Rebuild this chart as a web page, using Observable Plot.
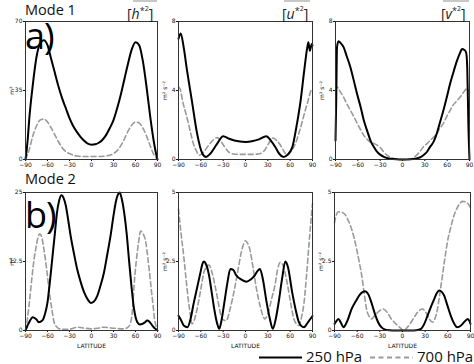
<!DOCTYPE html>
<html>
<head>
<meta charset="utf-8">
<script src="https://cdn.jsdelivr.net/npm/d3@7"></script>
<script src="https://cdn.jsdelivr.net/npm/@observablehq/plot@0.6"></script>
<style>
  html, body { margin: 0; padding: 0; background: #fff; }
  #root { position: relative; width: 474px; height: 364px; overflow: hidden; font-family: "Open Sans", sans-serif; }
  .abs { position: absolute; white-space: nowrap; line-height: 1; }
  .mode { font-size: 14.5px; color: #111; }
  .var { font-size: 14px; color: #222; }
  .var sup { font-size: 9px; vertical-align: 5px; }
  .var sup sup { font-size: 7px; vertical-align: 3px; }
  .tag { font-size: 36px; color: #000; letter-spacing: -1px; line-height: 27px; }
  .leg { font-size: 15px; color: #111; line-height: 13px; }
  .bar { position: absolute; background: #c8c8c8; height: 2px; top: 0; }
</style>
</head>
<body>
<div id="root"></div>
<script>
// ---- Data: [latitude, value] pairs ----
const xTicks = [-90, -60, -30, 0, 30, 60, 90];

// Mode 1, [h*^2] (m^2)
const h1_250 = [[-90,0],[-87,10],[-85,20],[-80,38],[-75,52],[-70,59],[-65,60.5],[-60,58],[-55,51],[-50,44],[-45,37],[-40,31],[-35,26],[-30,21],[-25,17],[-20,14],[-15,11.5],[-10,9.5],[-5,8],[0,7.5],[5,7.7],[10,8.5],[15,10],[20,12.5],[25,16],[30,20],[35,26],[40,33],[45,41],[50,49],[55,56],[60,59.5],[65,58],[70,50],[75,37],[80,22],[85,9],[88,3],[90,0]];
const h1_700 = [[-90,0],[-85,5],[-80,12],[-75,17],[-70,20],[-65,20.5],[-60,19],[-55,16],[-50,12.5],[-45,9],[-40,6],[-35,4],[-30,3],[-25,2.2],[-20,1.8],[-10,1.5],[0,1.5],[10,1.5],[20,1.8],[25,2.2],[30,3],[35,4.5],[40,7],[45,10.5],[50,14.5],[55,17.5],[60,19],[65,18.5],[70,16],[75,12],[80,7],[85,2.5],[90,0]];

// Mode 1, [u*^2] (m^2 s^-2)
const u1_250 = [[-90,7.0],[-87,7.3],[-83,6.5],[-79,5.3],[-72,3.4],[-65,1.5],[-58,0.35],[-53,0.15],[-47,0.35],[-38,0.92],[-30,1.35],[-22,1.2],[-15,1.1],[0,1.02],[10,1.07],[17,1.15],[28,1.35],[34,1.1],[40,0.73],[45,0.35],[51,0.15],[57,0.3],[63,0.73],[68,1.8],[74,3.4],[79,5.2],[83,6.5],[84.5,6.8],[86.5,6.3],[89,6.7],[90,6.6]];
const u1_700 = [[-90,4.2],[-88,4.1],[-84,3.3],[-79,2.5],[-74,1.6],[-70,0.92],[-66,0.5],[-62,0.25],[-56,0.44],[-50,0.8],[-44,1.1],[-38,1.27],[-33,1.05],[-28,0.73],[-24,0.5],[-19,0.35],[-10,0.3],[0,0.3],[10,0.3],[20,0.35],[26,0.55],[31,0.92],[37,1.25],[42,1.1],[47,0.83],[52,0.45],[56,0.25],[61,0.45],[67,0.92],[73,1.7],[79,2.65],[84,3.4],[88,4.0],[90,4.1]];

// Mode 1, [v*^2] (m^2 s^-2)
const v1_250 = [[-90,1.1],[-89,3.5],[-88,6.5],[-86,6.85],[-83,6.75],[-79,6.5],[-75,6.0],[-70,5.35],[-65,4.5],[-61,3.8],[-56,3.0],[-52,2.27],[-47,1.6],[-43,1.1],[-38,0.7],[-34,0.44],[-29,0.25],[-25,0.15],[-20,0.07],[-16,0.04],[-8,0.01],[0,0],[10,0.01],[19,0.06],[24,0.13],[28,0.25],[33,0.45],[37,0.73],[42,1.05],[46,1.5],[50,2.1],[55,2.85],[60,3.7],[64,4.4],[68,5.0],[73,5.7],[77,6.15],[80,6.4],[83,6.35],[85.5,6.2],[87,5.3],[88.5,2.0],[90,0]];
const v1_700 = [[-90,4.0],[-88,4.2],[-84,3.95],[-79,3.6],[-75,3.25],[-70,2.85],[-65,2.45],[-61,2.1],[-56,1.7],[-52,1.4],[-47,1.15],[-43,1.0],[-38,0.92],[-34,0.83],[-30,0.7],[-27,0.54],[-24,0.38],[-21,0.25],[-16,0.12],[-12,0.06],[-5,0.01],[0,0],[10,0],[14,0.08],[19,0.25],[24,0.5],[28,0.73],[33,0.92],[37,1.1],[42,1.3],[46,1.5],[50,1.8],[55,2.1],[60,2.55],[64,2.85],[68,3.15],[73,3.4],[78,3.65],[82,3.9],[86.5,4.1],[90,3.9]];

// Mode 2, [h*^2] (m^2)
const h2_250 = [[-90,0],[-85,1.5],[-80,2.4],[-75,2.0],[-72,1.5],[-67,1.8],[-63,3.2],[-60,5.1],[-57,8.5],[-53.5,13],[-50,17.5],[-47,21.4],[-44,23.6],[-41,24.5],[-38,24.0],[-35,22.6],[-32,20.2],[-28.5,17.2],[-24,14.0],[-19.5,11.1],[-15,8.9],[-10,6.9],[-5,5.6],[-1,5.0],[3,5.2],[8,6.3],[12,8.0],[17,10.5],[21,13.4],[26,17.2],[30,20.8],[33,23.2],[36,24.6],[38.5,25],[41,24.0],[44.5,21.4],[48,17.5],[51,13],[54.5,8.0],[58,3.9],[62.5,1.5],[66,1.1],[69.5,1.2],[73,1.5],[76,1.8],[79,1.6],[83,0.9],[87,0.3],[90,0]];
const h2_700 = [[-90,0],[-87,2.5],[-84,6],[-81,9.9],[-78,13.2],[-76,14.8],[-73,16.8],[-70.5,17.5],[-68,17],[-65,14.8],[-61,11],[-58,7.5],[-54,3.8],[-51,1.5],[-47,0.6],[-44,0.3],[-33,0.2],[-25,0.4],[-19,0.6],[-10,0.45],[-1,0.3],[8,0.4],[17,0.6],[24,0.5],[31,0.4],[44,0.3],[50,0.6],[53.5,1.5],[56,4.0],[58,8.1],[61,12.5],[64,15.8],[67,18],[70,17.6],[74,16],[77,13],[81,8.1],[84,4.5],[86,2.1],[88,0.8],[90,0]];

// Mode 2, [u*^2] (m^2 s^-2)
const u2_250 = [[-90,0.54],[-87,0.4],[-83,0.18],[-78,0.12],[-74,0.4],[-69.5,1.0],[-65,1.55],[-60.5,2.1],[-58,2.4],[-56,2.5],[-53,2.4],[-49,2.0],[-45.5,1.4],[-42,0.78],[-38.5,0.3],[-35.3,0.06],[-32,0.4],[-28.5,1.0],[-24.5,1.7],[-20.3,2.23],[-16.5,2.2],[-12.5,2.0],[-6,1.85],[1,1.77],[7,1.85],[12.5,2.0],[16,2.15],[19.4,2.23],[23,1.9],[28.5,1.0],[32.5,0.45],[36.7,0.06],[40.5,0.4],[44.4,1.0],[49,1.85],[53.5,2.5],[57,2.3],[62.6,1.4],[67,0.8],[71.7,0.3],[75,0.16],[78.6,0.12],[82,0.22],[85.5,0.36],[88,0.45],[90,0.52]];
const u2_700 = [[-90,4.4],[-86.5,3.5],[-83,2.7],[-80,1.9],[-76.3,1.0],[-74,0.55],[-71.8,0.24],[-68.5,0.4],[-65,0.78],[-60,1.5],[-56,2.1],[-52.5,2.3],[-49,2.37],[-45,2.1],[-40,1.5],[-36.5,1.0],[-33,0.54],[-29.5,0.38],[-26,0.36],[-20.5,0.8],[-14.8,1.5],[-10,2.2],[-5.7,2.83],[-3,3.1],[-0.2,3.25],[3,3.15],[5.7,2.95],[10,2.3],[14.8,1.5],[20,0.85],[26,0.42],[30,0.6],[35,1.14],[40,1.7],[43,2.2],[46.7,2.47],[50.5,2.35],[55.8,1.75],[60,1.1],[65,0.42],[68,0.25],[71.7,0.18],[75,0.45],[78.6,1.0],[82,2.0],[85.5,3.2],[88,4.0],[90,4.6]];

// Mode 2, [v*^2] (m^2 s^-2)
const v2_250 = [[-90,0.24],[-87,0.36],[-84.8,0.42],[-81.5,0.28],[-78.2,0.12],[-73,0.35],[-67.3,0.78],[-61,1.1],[-56.4,1.3],[-49.8,1.42],[-45,1.3],[-41,1.0],[-36.5,0.6],[-32.3,0.3],[-28,0.12],[-23.6,0.04],[-17,0.01],[-10.5,0],[0,0],[11.4,0],[18,0.01],[24.5,0.06],[29,0.25],[33.2,0.54],[37.5,0.85],[42,1.14],[45.5,1.36],[48.5,1.45],[52,1.4],[55,1.27],[59.5,0.9],[63.8,0.54],[68,0.27],[72.5,0.12],[77,0.17],[81.3,0.3],[86.5,0.42],[88.5,0.35],[90,0.24]];
const v2_700 = [[-90,3.9],[-87.5,4.2],[-84.8,4.3],[-80,4.28],[-76,4.2],[-72,4.0],[-67.3,3.67],[-64,3.35],[-60.7,2.95],[-57,2.45],[-54,2.0],[-50.5,1.3],[-47.6,0.78],[-44,0.5],[-41,0.42],[-36.7,0.54],[-31,0.7],[-25.8,0.78],[-20,0.65],[-14.9,0.42],[-9,0.25],[-4,0.12],[1.7,0],[6,0.1],[11.4,0.3],[16,0.5],[20,0.66],[26.6,0.78],[31,0.65],[35.4,0.42],[39.7,0.3],[42.5,0.4],[46.3,0.78],[49.5,1.35],[52.9,2.0],[56,2.6],[59.4,3.2],[64,3.75],[68.2,4.17],[72.5,4.45],[77,4.64],[80,4.68],[83.5,4.66],[87,4.58],[90,4.45]];

// ---- Panel layout ----
const panels = [
  {s250: h1_250, s700: h1_700, yMax: 70,  yTicks: [0,35,70],    ylab: "m²",      fx: 25,  fy: 21,  fw: 132, fh: 138, bottom: false},
  {s250: u1_250, s700: u1_700, yMax: 8,   yTicks: [0,4,8],      ylab: "m² s⁻²",  fx: 178, fy: 21,  fw: 134, fh: 138, bottom: false},
  {s250: v1_250, s700: v1_700, yMax: 8,   yTicks: [0,4,8],      ylab: "m² s⁻²",  fx: 335, fy: 21,  fw: 134, fh: 138, bottom: false},
  {s250: h2_250, s700: h2_700, yMax: 25,  yTicks: [0,12.5,25],  ylab: "m²",      fx: 25,  fy: 192, fw: 132, fh: 138, bottom: true},
  {s250: u2_250, s700: u2_700, yMax: 5,   yTicks: [0,2.5,5],    ylab: "m² s⁻²",  fx: 178, fy: 192, fw: 134, fh: 138, bottom: true},
  {s250: v2_250, s700: v2_700, yMax: 5,   yTicks: [0,2.5,5],    ylab: "m² s⁻²",  fx: 334, fy: 192, fw: 136, fh: 138, bottom: true}
];

const root = document.getElementById("root");
const ML = 22, MR = 3, MT = 4;

panels.forEach(p => {
  const MB = p.bottom ? 20 : 10;
  const chart = Plot.plot({
    width: p.fw + ML + MR,
    height: p.fh + MT + MB,
    marginLeft: ML, marginRight: MR, marginTop: MT, marginBottom: MB,
    style: {fontFamily: "'DejaVu Sans', sans-serif", fontSize: "6px", color: "#111", background: "transparent", overflow: "visible"},
    x: {domain: [-90, 90], ticks: xTicks, tickSize: 2, tickPadding: 1,
        label: p.bottom ? "LATITUDE" : null, labelAnchor: "center", labelArrow: "none", labelOffset: 17},
    y: {domain: [0, p.yMax], ticks: p.yTicks, tickSize: 2, tickPadding: 1,
        tickFormat: d => String(d),
        label: p.ylab, labelAnchor: "center", labelArrow: "none", labelOffset: 16},
    marks: [
      Plot.line(p.s700, {x: d => d[0], y: d => d[1], stroke: "#9a9a9a", strokeWidth: 1.6, strokeDasharray: "5,3", curve: "monotone-x"}),
      Plot.line(p.s250, {x: d => d[0], y: d => d[1], stroke: "#000", strokeWidth: 2, curve: "monotone-x"}),
      Plot.frame({stroke: "#333", strokeWidth: 1})
    ]
  });
  chart.style.position = "absolute";
  chart.style.left = (p.fx - ML) + "px";
  chart.style.top = (p.fy - MT) + "px";
  root.appendChild(chart);
});

// ---- Text annotations ----
function addText(txt, cls, left, top, html) {
  const el = document.createElement("div");
  el.className = "abs " + cls;
  if (html) el.innerHTML = txt; else el.textContent = txt;
  el.style.left = left + "px";
  el.style.top = top + "px";
  root.appendChild(el);
  return el;
}
function addBar(left, width) {
  const b = document.createElement("div");
  b.className = "bar";
  b.style.left = left + "px";
  b.style.width = width + "px";
  root.appendChild(b);
}
addBar(133, 24); addBar(284, 26); addBar(443, 26);
addText("Mode 1", "mode", 25, 3);
addText("Mode 2", "mode", 25, 172);
addText("[<i>h</i><sup>*<sup>2</sup></sup>]", "var", 127, 5, true);
addText("[<i>u</i><sup>*<sup>2</sup></sup>]", "var", 282, 5, true);
addText("[<i>v</i><sup>*<sup>2</sup></sup>]", "var", 441, 5, true);
addText("a)", "tag", 25, 21.5);
addText("b)", "tag", 25, 200.5);

// ---- Legend ----
const ns = "http://www.w3.org/2000/svg";
const leg = document.createElementNS(ns, "svg");
leg.setAttribute("width", "474"); leg.setAttribute("height", "14");
Object.assign(leg.style, {position: "absolute", left: "0px", top: "350px"});
leg.innerHTML = '<line x1="259" x2="302" y1="7.5" y2="7.5" stroke="#000" stroke-width="2"/>' +
                '<line x1="370" x2="413" y1="7.5" y2="7.5" stroke="#9a9a9a" stroke-width="1.8" stroke-dasharray="5,3.5"/>';
root.appendChild(leg);
addText("250 hPa", "leg", 306, 349.5);
addText("700 hPa", "leg", 417, 349.5);
</script>
</body>
</html>
